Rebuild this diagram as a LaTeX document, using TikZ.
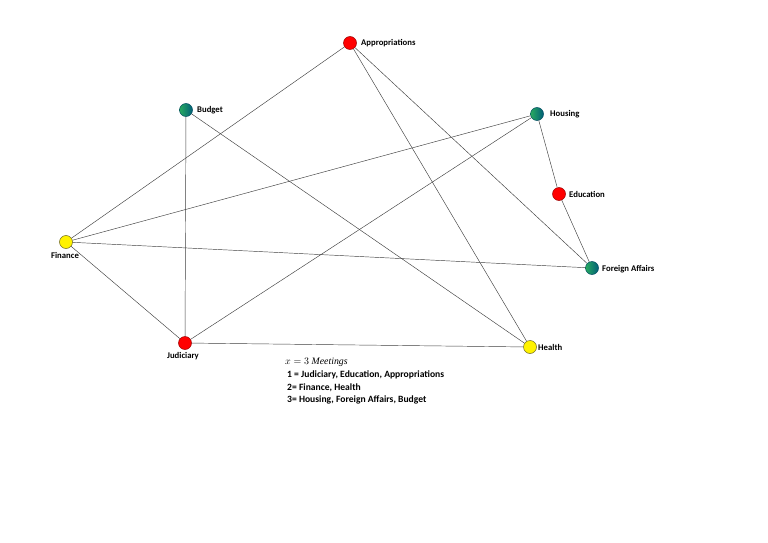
\documentclass[tikz,border=0pt]{standalone}
\usepackage{fontspec}
\setmainfont{Carlito}
\newfontfamily\legendfont{Liberation Serif}
\definecolor{tealL}{RGB}{40,170,95}
\definecolor{tealR}{RGB}{0,95,120}
\begin{document}
\begin{tikzpicture}[x=1pt,y=-1pt,
  vtx/.style={circle,minimum size=13pt,inner sep=0pt,line width=0.5pt},
  redv/.style={vtx,fill=red,draw=red!60!black},
  yelv/.style={vtx,fill=yellow,draw=olive!70!black},
  teav/.style={vtx,left color=tealL,right color=tealR,draw=tealR!80!black},
  lbl/.style={font=\fontsize{8.7}{10}\selectfont\bfseries,inner sep=0pt},
  legl/.style={anchor=west,inner sep=0pt,font=\fontsize{9.6}{11}\selectfont\bfseries},
  edge/.style={draw=black!75,line width=0.45pt}]
\useasboundingbox (0,0) rectangle (768,543);
\fill[white] (0,0) rectangle (768,543);
\node[redv] (app) at (350,43) {};
\node[teav] (bud) at (186,110) {};
\node[teav] (hou) at (537,114) {};
\node[redv] (edu) at (559,194) {};
\node[yelv] (fin) at (66,242) {};
\node[teav] (for) at (592,268) {};
\node[redv] (jud) at (185,343) {};
\node[yelv] (hea) at (530,347) {};
\node[lbl,anchor=west] at (361,43) {Appropriations};
\node[lbl,anchor=west] at (197,110) {Budget};
\node[lbl,anchor=west] at (550,114) {Housing};
\node[lbl,anchor=west] at (569,194) {Education};
\node[lbl,anchor=west] at (602,269) {Foreign Affairs};
\node[lbl,anchor=west] at (538,347) {Health};
\node[lbl] at (65,255) {Finance};
\node[lbl] at (183,356) {Judiciary};
\path[edge] (app) -- (fin);
\path[edge] (app) -- (hea);
\path[edge] (app) -- (for);
\path[edge] (bud) -- (jud);
\path[edge] (bud) -- (hea);
\path[edge] (hou) -- (fin);
\path[edge] (hou) -- (jud);
\path[edge] (hou) -- (edu);
\path[edge] (edu) -- (for);
\path[edge] (fin) -- (for);
\path[edge] (fin) -- (jud);
\path[edge] (jud) -- (hea);
\node[anchor=west,inner sep=0pt,font=\legendfont\itshape\fontsize{9.8}{11}\selectfont] (leg) at (285,362) {$x = 3$ Meetings};
\node[legl] (l1) at (287,375) {1 = Judiciary, Education, Appropriations};
\node[legl] (l2) at (287,387.5) {2= Finance, Health};
\node[legl] (l3) at (287,400) {3= Housing, Foreign Affairs, Budget};
\end{tikzpicture}
\end{document}
